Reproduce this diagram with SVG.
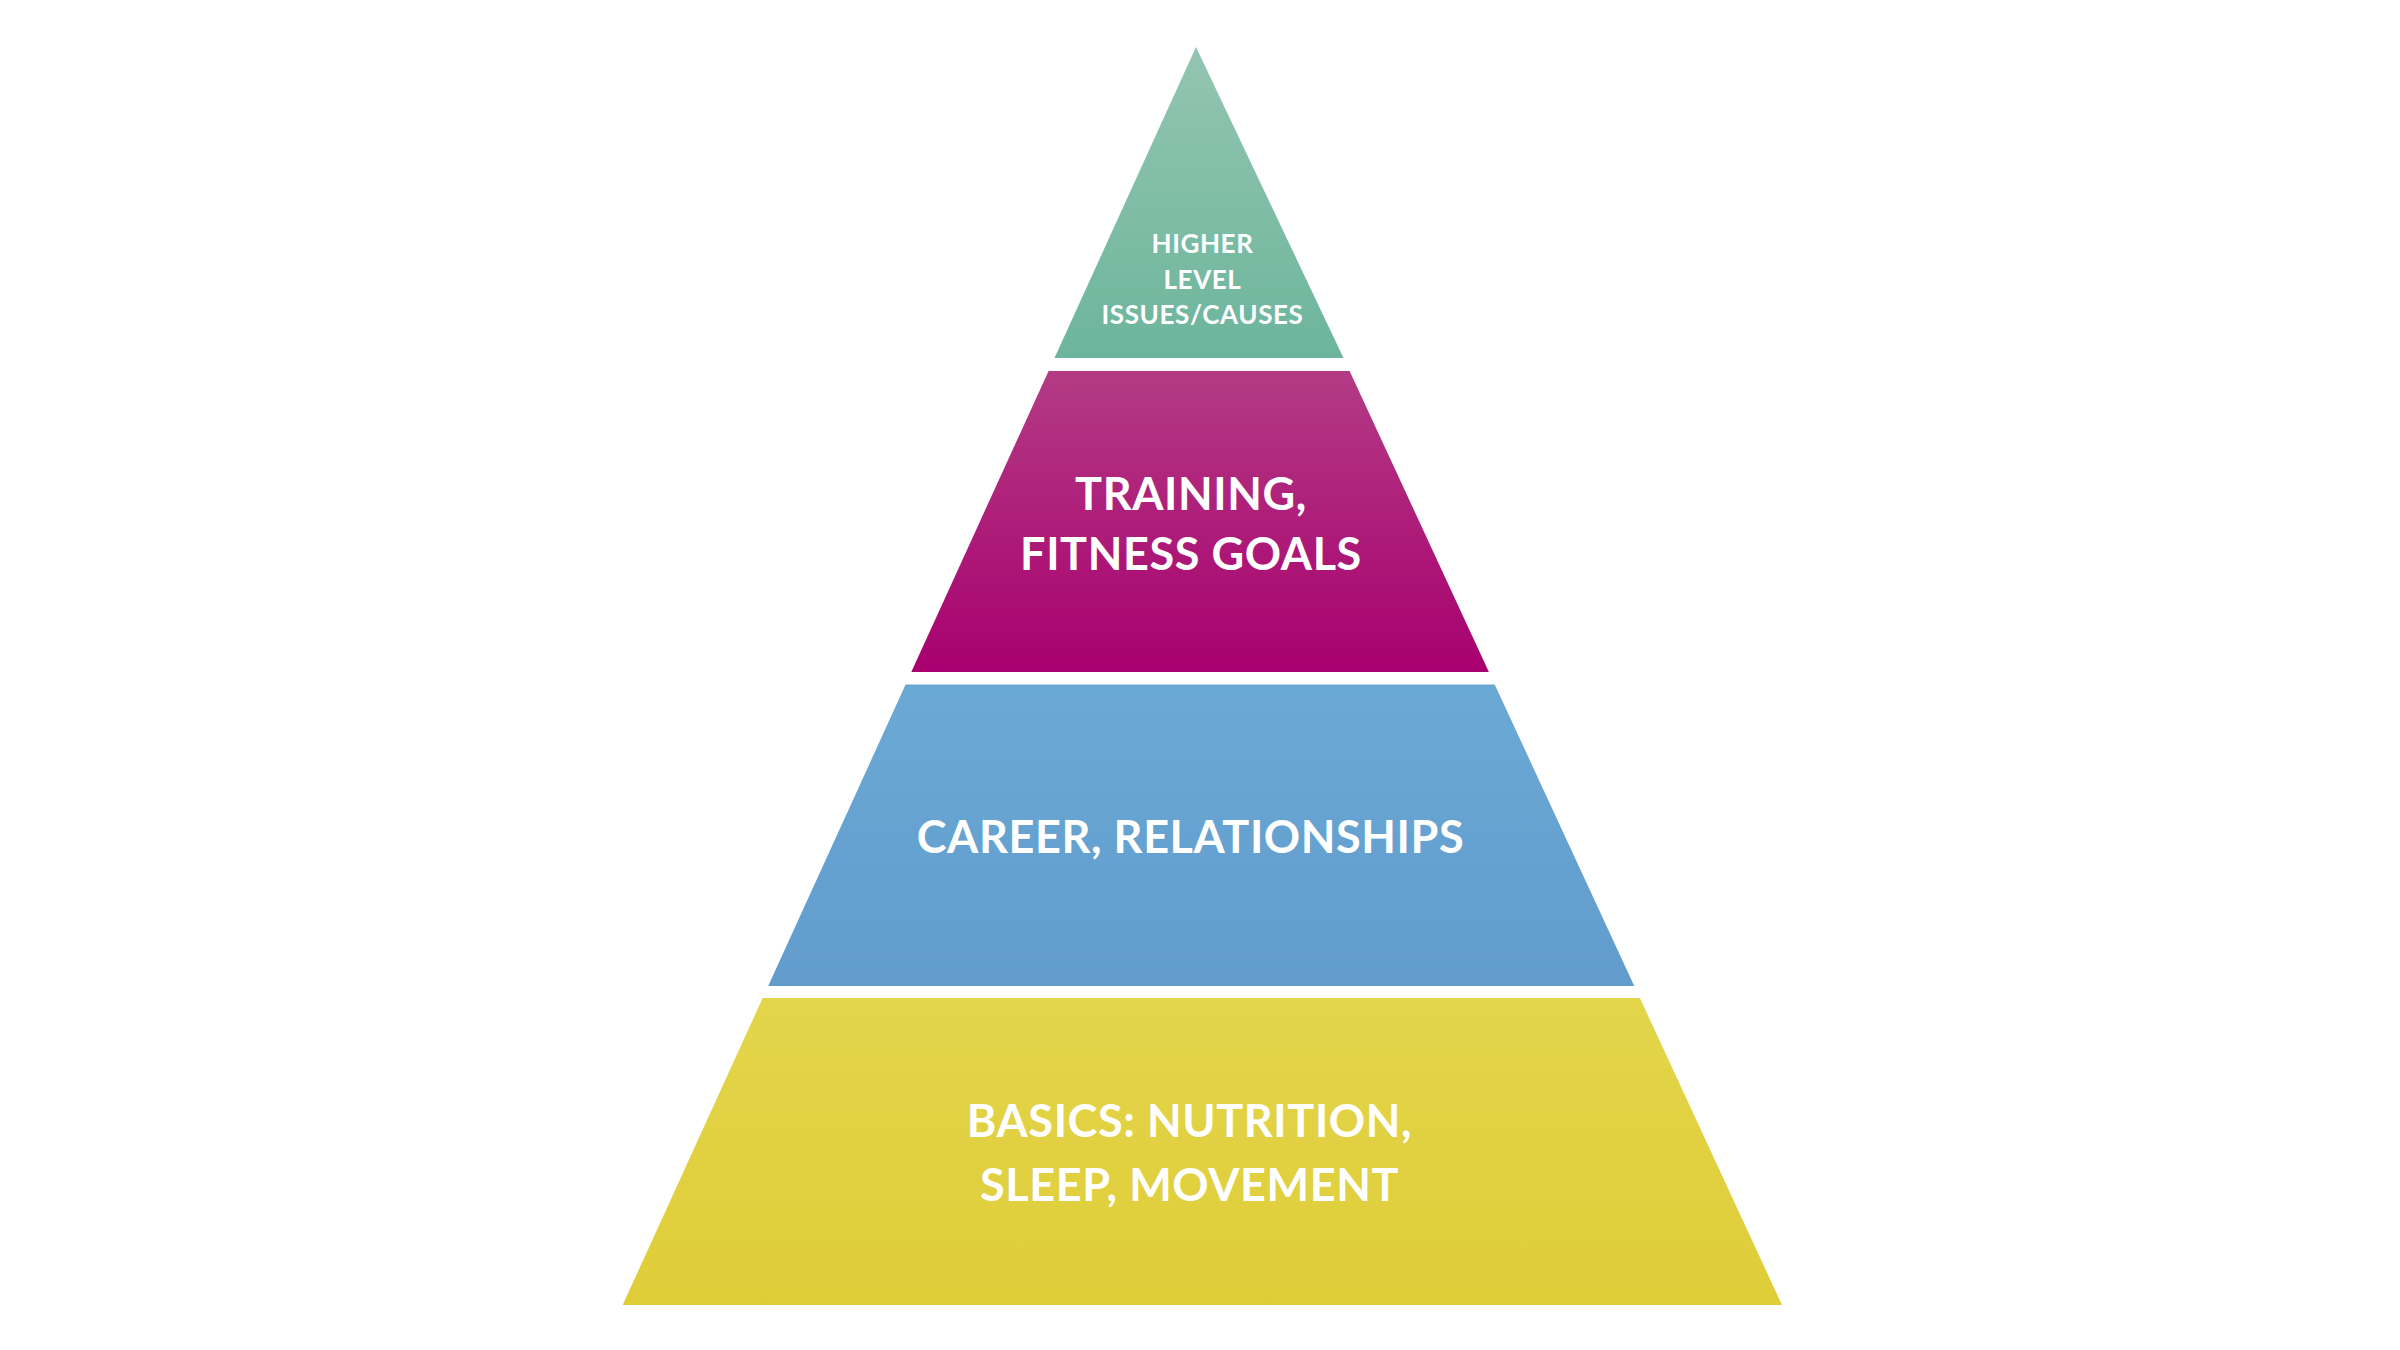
<svg xmlns="http://www.w3.org/2000/svg" width="2400" height="1350" viewBox="0 0 2400 1350">
  <defs>
    <linearGradient id="gGreen" x1="0" y1="0" x2="0" y2="1">
      <stop offset="0" stop-color="#94c5b1"/>
      <stop offset="1" stop-color="#6cb59c"/>
    </linearGradient>
    <linearGradient id="gMagenta" x1="0" y1="0" x2="0" y2="1">
      <stop offset="0" stop-color="#b33b84"/>
      <stop offset="1" stop-color="#a8006f"/>
    </linearGradient>
    <linearGradient id="gBlue" x1="0" y1="0" x2="0" y2="1">
      <stop offset="0" stop-color="#6ba9d5"/>
      <stop offset="1" stop-color="#619ccd"/>
    </linearGradient>
    <linearGradient id="gYellow" x1="0" y1="0" x2="0" y2="1">
      <stop offset="0" stop-color="#e3d54b"/>
      <stop offset="1" stop-color="#dfcd38"/>
    </linearGradient>
  </defs>
  <style>
    .lbl { font-family: "Lato", "Open Sans", "Liberation Sans", sans-serif; font-weight: 700; fill: #ffffff; text-anchor: middle; letter-spacing: 0.6px; }
    .big { font-size: 45px; }
    .small { font-size: 26px; }
  </style>
  <rect x="0" y="0" width="2400" height="1350" fill="#ffffff"/>
  <g id="tier-top">
    <polygon points="1196,47 1343.5,358 1054.5,358" fill="url(#gGreen)"/>
    <text class="lbl small" x="1202.5" y="253">HIGHER</text>
    <text class="lbl small" x="1202.5" y="288.5">LEVEL</text>
    <text class="lbl small" x="1202.5" y="324">ISSUES/CAUSES</text>
  </g>
  <g id="tier-training">
    <polygon points="1048.6,371 1349.6,371 1488.9,672 911.3,672" fill="url(#gMagenta)"/>
    <text class="lbl big" x="1191" y="510">TRAINING,</text>
    <text class="lbl big" x="1191" y="570">FITNESS GOALS</text>
  </g>
  <g id="tier-career">
    <polygon points="905.6,684.5 1494.7,684.5 1634.3,986 768.2,986" fill="url(#gBlue)"/>
    <text class="lbl big" x="1190.5" y="853">CAREER, RELATIONSHIPS</text>
  </g>
  <g id="tier-basics">
    <polygon points="762.7,998 1639.9,998 1782,1305 622.7,1305" fill="url(#gYellow)"/>
    <text class="lbl big" x="1189.5" y="1137">BASICS: NUTRITION,</text>
    <text class="lbl big" x="1189.5" y="1201">SLEEP, MOVEMENT</text>
  </g>
  <g id="connectors"/>
</svg>
